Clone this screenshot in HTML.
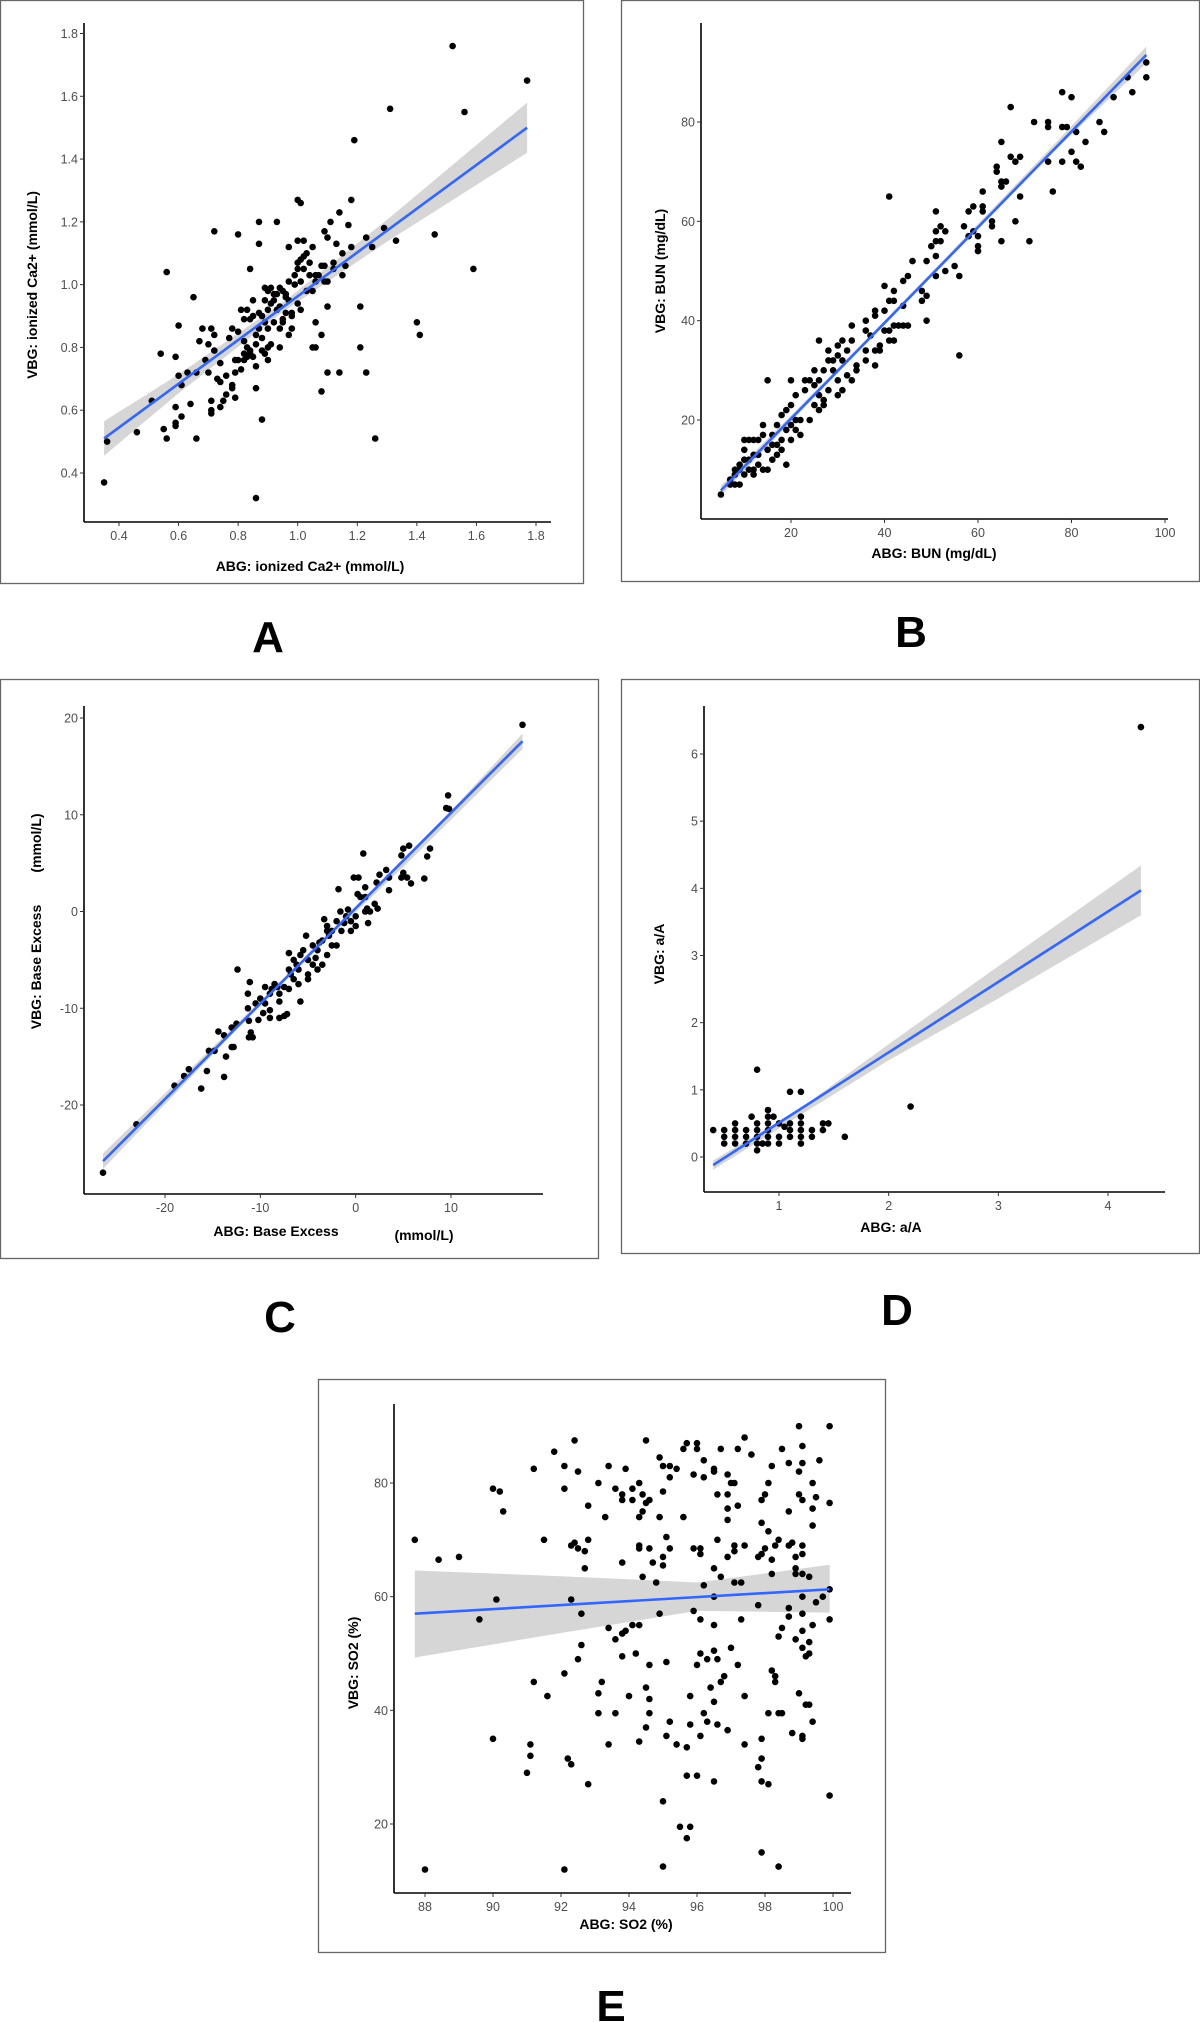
<!DOCTYPE html>
<html><head><meta charset="utf-8"><style>
html,body{margin:0;padding:0;background:#fff;}
svg{display:block;}
text{font-family:"Liberation Sans",sans-serif;}
.tick{fill:#4d4d4d;font-size:12.5px;}
.ttl{fill:#000;font-size:14px;font-weight:bold;}
.lbl{fill:#000;font-size:44px;font-weight:bold;}
</style></head><body>
<svg id="fig" width="1200" height="2022" viewBox="0 0 1200 2022" xmlns="http://www.w3.org/2000/svg">
<rect x="0" y="0" width="1200" height="2022" fill="#fff"/>
<text class="lbl" x="268" y="652" text-anchor="middle">A</text>
<text class="lbl" x="911" y="647" text-anchor="middle">B</text>
<text class="lbl" x="280" y="1332" text-anchor="middle">C</text>
<text class="lbl" x="897" y="1325" text-anchor="middle">D</text>
<text class="lbl" x="611" y="2021" text-anchor="middle">E</text>
</svg>
<script>
// ---------- Panel A: ionized Ca2+ ----------
const aX=[0.35,0.36,0.46,0.51,0.54,0.55,0.56,0.56,0.59,0.59,0.59,0.59,0.60,0.60,0.61,0.61,0.63,0.64,0.65,0.66,0.66,0.67,0.68,0.69,0.70,0.70,0.71,0.71,0.71,0.71,0.72,0.72,0.72,0.73,0.74,0.74,0.74,0.75,0.76,0.76,0.77,0.78,0.78,0.78,0.79,0.79,0.79,0.80,0.80,0.81,0.81,0.82,0.82,0.82,0.83,0.83,0.84,0.84,0.84,0.85,0.85,0.86,0.86,0.86,0.86,0.87,0.87,0.87,0.88,0.88,0.89,0.89,0.89,0.90,0.90,0.90,0.91,0.91,0.92,0.92,0.93,0.93,0.94,0.94,0.95,0.96,0.97,0.97,0.97,0.98,0.98,0.99,1.00,1.00,1.00,1.00,1.01,1.01,1.01,1.02,1.02,1.03,1.04,1.05,1.05,1.05,1.06,1.06,1.06,1.07,1.08,1.08,1.09,1.09,1.09,1.10,1.10,1.10,1.11,1.12,1.13,1.14,1.14,1.15,1.15,1.16,1.17,1.18,1.18,1.19,1.21,1.21,1.23,1.23,1.25,1.26,1.29,1.31,1.33,1.40,1.41,1.46,1.52,1.56,1.59,1.77,0.93,0.95,0.97,0.99,1.00,1.01,1.02,1.03,0.92,0.94,0.96,0.98,0.88,0.87,0.89,0.91,0.90,0.96,0.94,0.95,0.84,0.83,0.85,0.88,0.90,0.86,0.80,0.82,1.04,1.06,1.08,1.10,1.12];
const aY=[0.37,0.50,0.53,0.63,0.78,0.54,0.51,1.04,0.77,0.61,0.56,0.55,0.87,0.71,0.68,0.58,0.72,0.62,0.96,0.51,0.72,0.82,0.86,0.76,0.72,0.81,0.63,0.60,0.59,0.86,1.17,0.84,0.79,0.70,0.61,0.75,0.69,0.63,0.65,0.71,0.83,0.86,0.68,0.67,0.64,0.76,0.72,1.16,0.85,0.73,0.92,0.89,0.82,0.76,0.92,0.77,1.05,0.79,0.89,0.95,0.90,0.74,0.67,0.32,0.81,1.20,1.13,0.91,0.57,0.83,0.99,0.95,0.78,0.76,0.86,0.92,0.99,0.81,0.88,0.97,1.20,0.92,0.99,0.80,0.88,0.96,1.12,0.84,1.01,0.86,0.91,1.03,1.27,1.14,1.07,0.94,1.26,0.92,1.01,1.14,1.09,0.98,1.07,1.12,0.98,0.80,0.80,0.88,1.03,1.03,0.84,0.66,1.17,1.06,1.01,0.93,0.72,1.15,1.20,1.07,1.13,1.23,0.72,1.03,1.10,1.06,1.19,1.27,1.12,1.46,0.93,0.80,1.15,0.72,1.12,0.51,1.18,1.56,1.14,0.88,0.84,1.16,1.76,1.55,1.05,1.65,0.97,0.98,0.95,1.00,1.05,1.08,1.05,1.10,0.95,0.93,0.91,0.90,0.90,0.86,0.88,0.94,0.98,0.97,0.86,0.89,0.78,0.80,0.77,0.79,0.80,0.84,0.76,0.78,1.03,1.01,1.06,1.01,1.05];
const aTicksX=[0.4,0.6,0.8,1.0,1.2,1.4,1.6,1.8];
const aTicksY=[0.4,0.6,0.8,1.0,1.2,1.4,1.6,1.8];
const aTickLabX=["0.4","0.6","0.8","1.0","1.2","1.4","1.6","1.8"];
const aTickLabY=["0.4","0.6","0.8","1.0","1.2","1.4","1.6","1.8"];
const aFitX=[0.35,1.77];
const aFitY=[0.51,1.50];
const aBandX=[0.35,0.6,0.95,1.3,1.77];
const aBandLo=[0.455,0.654,0.913,1.137,1.42];
const aBandHi=[0.565,0.714,0.943,1.207,1.58];

// ---------- Panel B: BUN ----------
const bX=[5,7,7,8,8,8,9,9,9,10,10,10,10,11,11,11,12,12,12,12,13,13,13,14,14,14,15,15,15,16,16,16,17,17,17,18,18,18,19,19,19,20,20,20,20,21,21,21,22,22,23,23,24,24,25,25,25,26,26,26,26,27,27,27,28,28,28,29,29,30,30,30,30,31,31,31,32,32,33,33,33,34,34,36,36,36,36,37,38,38,38,38,39,39,40,40,40,41,41,41,41,42,42,42,42,43,44,44,44,45,45,46,48,48,49,49,49,50,51,51,51,51,51,52,52,53,53,55,56,56,57,58,58,59,59,60,60,60,61,61,61,63,63,64,64,65,65,65,65,66,67,67,68,68,69,69,71,72,75,75,75,76,78,78,78,79,80,80,81,81,82,83,86,87,89,92,93,96,96];
const bY=[5,7,8,7,9,10,7,10,11,9,12,14,16,12,10,16,9,10,13,16,11,13,16,10,17,19,10,14,28,12,15,17,13,15,19,14,16,21,11,18,22,16,19,23,28,18,25,20,20,17,28,26,20,28,23,30,27,36,22,28,25,24,30,23,34,26,32,32,30,25,28,33,35,36,26,32,29,34,28,39,36,31,30,32,34,38,40,37,31,34,41,42,34,35,38,42,47,36,38,44,65,39,36,44,46,39,39,43,48,39,49,52,44,46,40,45,52,55,49,53,56,58,62,56,59,50,58,51,33,49,59,57,62,58,63,54,55,57,66,62,63,59,60,70,71,56,67,68,76,68,83,73,60,72,65,73,56,80,72,79,80,66,72,79,86,79,74,85,72,78,71,76,80,78,85,89,86,89,92];
const bTicksX=[20,40,60,80,100];
const bTicksY=[20,40,60,80];
const bTickLabX=["20","40","60","80","100"];
const bTickLabY=["20","40","60","80"];
const bFitX=[5,96];
const bFitY=[5.8,93.5];
const bBandX=[5,30,50,75,96];
const bBandLo=[4.8,29.6,49.1,73.0,91.8];
const bBandHi=[6.8,30.4,49.7,74.2,95.2];

// ---------- Panel C: Base Excess ----------
const cX=[-26.5,-23,-19,-18,-17.5,-16.2,-15.6,-15.4,-14.8,-14.4,-13.8,-13.8,-13.6,-13,-13,-12.8,-12.5,-12.4,-11.3,-11.3,-11.2,-11.2,-11.1,-11,-10.8,-10.5,-10.2,-10,-9.7,-9.5,-9,-9,-9,-8.5,-8,-8,-8,-7.5,-7.5,-7.2,-7,-7,-7,-6.5,-6.5,-6,-6,-5.8,-5.5,-5.2,-5,-5,-5,-4.5,-4.5,-4,-4,-3.5,-3.5,-3.3,-3,-3,-3,-2.5,-2.5,-2,-2,-1.8,-1.6,-1.5,-1,-0.8,-0.5,-0.5,0,0,-0.2,0.3,0.2,0.5,0.8,1,1,1,1.2,1.3,1.5,2,2.2,2.3,2.5,3.2,3.5,3.5,4.8,4.8,5,5,5.4,5.6,5.8,7.2,7.5,7.8,9.5,9.8,9.7,17.5,-9.5,-8.8,-8.2,-6.8,-6.2,-5.8,-4.2,-3.8,-2.8,-1.2];
const cY=[-27,-22,-18,-17,-16.3,-18.3,-16.5,-14.4,-14.4,-12.4,-12.8,-17.1,-15,-14,-12,-14,-11.6,-6,-8.5,-10,-11.3,-13,-7.3,-12.5,-13,-9.5,-11.2,-9,-10.5,-7.8,-8.5,-11,-10.2,-7.5,-11,-8.5,-9.3,-7.8,-10.8,-10.6,-6,-8,-4.3,-7,-5,-6,-7.5,-9.3,-4,-2.5,-7,-5,-6.5,-5.5,-3.5,-4,-6,-3,-5.5,-0.8,-2,-4.5,-1.5,-2,-3.5,-1,-3.5,2.3,0,-2,-0.5,0.2,-1,-2,-0.5,-1.5,3.5,3.5,1.8,1.5,6,2.5,0,1.5,0.3,-1.2,0,0.8,3,0.3,3.8,4.3,2.2,3.5,3.5,5.8,6.5,4,3.5,6.8,2.9,3.4,5.7,6.5,10.7,10.6,12,19.3,-9.5,-8,-7.8,-6.5,-5.5,-4.5,-4.8,-3.2,-2.5,-1.2];
const cTicksX=[-20,-10,0,10];
const cTicksY=[-20,-10,0,10,20];
const cTickLabX=["-20","-10","0","10"];
const cTickLabY=["-20","-10","0","10","20"];
const cFitX=[-26.5,17.5];
const cFitY=[-25.8,17.6];
const cBandX=[-26.5,-10,-4,5,17.5];
const cBandLo=[-26.6,-9.65,-3.8,4.6,16.8];
const cBandHi=[-25.0,-9.25,-3.4,5.1,18.4];

// ---------- Panel D: a/A ----------
const dX=[0.4,0.5,0.5,0.5,0.6,0.6,0.6,0.6,0.7,0.7,0.7,0.75,0.8,0.8,0.8,0.8,0.8,0.8,0.85,0.9,0.9,0.9,0.9,0.9,0.9,0.95,1.0,1.0,1.0,1.05,1.1,1.1,1.1,1.1,1.2,1.2,1.2,1.2,1.2,1.2,1.3,1.3,1.4,1.4,1.45,1.6,2.2,4.3];
const dY=[0.4,0.2,0.3,0.4,0.2,0.3,0.4,0.5,0.2,0.3,0.4,0.6,0.1,0.2,0.3,0.4,0.5,1.3,0.2,0.2,0.3,0.4,0.5,0.6,0.7,0.6,0.2,0.3,0.5,0.45,0.3,0.4,0.5,0.97,0.2,0.3,0.4,0.5,0.6,0.97,0.3,0.4,0.4,0.5,0.5,0.3,0.75,6.4];
const dTicksX=[1,2,3,4];
const dTicksY=[0,1,2,3,4,5,6];
const dTickLabX=["1","2","3","4"];
const dTickLabY=["0","1","2","3","4","5","6"];
const dFitX=[0.4,4.3];
const dFitY=[-0.12,3.97];
const dBandX=[0.4,1.2,2.0,3.0,4.3];
const dBandLo=[-0.19,0.63,1.44,2.36,3.6];
const dBandHi=[-0.05,0.73,1.68,2.84,4.34];

// ---------- Panel E: SO2 ----------
const eX=[87.7,88,88.4,89,89.6,90,90,90.1,90.2,90.3,91,91.1,91.1,91.2,91.2,91.5,91.6,91.8,92.1,92.1,92.1,92.1,92.2,92.3,92.3,92.3,92.4,92.4,92.5,92.5,92.5,92.6,92.6,92.7,92.7,92.8,92.8,92.8,93.1,93.1,93.1,93.2,93.3,93.4,93.4,93.4,93.6,93.6,93.6,93.8,93.8,93.8,93.8,93.8,93.9,93.9,94,94.1,94.1,94.1,94.2,94.3,94.3,94.3,94.3,94.3,94.3,94.4,94.4,94.4,94.5,94.5,94.5,94.5,94.6,94.6,94.6,94.6,94.6,94.7,94.8,94.9,94.9,94.9,95,95,95,95,95,95,95.1,95.1,95.1,95.2,95.2,95.2,95.2,95.4,95.4,95.5,95.6,95.6,95.7,95.7,95.7,95.7,95.8,95.8,95.8,95.9,95.9,95.9,96,96,96,96,96.1,96.1,96.1,96.1,96.1,96.2,96.2,96.2,96.2,96.3,96.3,96.4,96.5,96.5,96.5,96.5,96.5,96.5,96.5,96.5,96.6,96.6,96.6,96.6,96.7,96.7,96.7,96.8,96.9,96.9,96.9,96.9,96.9,96.9,97,97,97.1,97.1,97.1,97.1,97.2,97.2,97.2,97.3,97.3,97.4,97.4,97.4,97.4,97.6,97.8,97.8,97.8,97.9,97.9,97.9,97.9,97.9,97.9,97.9,98,98,98.1,98.1,98.1,98.1,98.2,98.2,98.2,98.2,98.3,98.3,98.3,98.4,98.4,98.4,98.4,98.5,98.5,98.5,98.7,98.7,98.7,98.7,98.7,98.8,98.8,98.9,98.9,98.9,98.9,99,99,99,99,99.1,99.1,99.1,99.1,99.1,99.1,99.1,99.1,99.1,99.1,99.1,99.1,99.2,99.2,99.3,99.3,99.3,99.3,99.4,99.4,99.4,99.4,99.4,99.5,99.5,99.6,99.7,99.9,99.9,99.9,99.9,99.9];
const eY=[70,12,66.5,67,56,79,35,59.5,78.5,75,29,34,32,82.5,45,70,42.5,85.5,83,79,46.5,12,31.5,30.5,69,59.5,87.5,69.5,82,68.5,49,57,51.5,68,65,76,70,27,80,43,39.5,45,74,83,54.5,34,79,52.5,39.5,78,77,66,53.5,49.5,82.5,54,42.5,79,77,55,50,80,74,69,68.5,55,34.5,78,75,63.5,87.5,76.5,44,37,77,68.5,48,42,39.5,66,62.5,84.5,74,57,83,78.5,67,65.5,24,12.5,70.5,48.5,35.5,83,81,68.5,38,82.5,34,19.5,86,74,87,33.5,28.5,17.5,42.5,37.5,19.5,81.5,68.5,57.5,87,86,48,28.5,68.5,67.5,56,50,35.5,84,81,62,39.5,49,38,44,82.5,82,65,60,55,50.5,41.5,27.5,78,70,49,37.5,86,63.5,45,46,81.5,78,75.5,73.5,67,36.5,80,51,80,69,68,62.5,86,76,48,62.5,56,88,69,42.5,34,85,67,58.5,30,73,77,67.5,35,31.5,27.5,15,78,68.5,80,71.5,39.5,27,83,66.5,64,47,69,46,45,70,53,39.5,12.5,86,54.5,39.5,83.5,75,69,58,56.5,69.5,36,67,65,64,52.5,90,82,78,43,86.5,83.5,77,69,67.5,64,60,57,54,51,35.5,35,49.5,41,63.5,52,50,41,80,75.5,72.5,55,38,77.5,59,84,60,90,76.5,61.3,56,25];
const eTicksX=[88,90,92,94,96,98,100];
const eTicksY=[20,40,60,80];
const eTickLabX=["88","90","92","94","96","98","100"];
const eTickLabY=["20","40","60","80"];
const eFitX=[87.7,99.9];
const eFitY=[57,61.3];
const eBandX=[87.7,92,96,99.9];
const eBandLo=[49.3,53.6,57.5,57.2];
const eBandHi=[64.6,63.6,62.5,65.6];

const NS="http://www.w3.org/2000/svg";
const svg=document.getElementById('fig');
function mk(tag,attrs,parent){const e=document.createElementNS(NS,tag);for(const k in attrs)e.setAttribute(k,attrs[k]);(parent||svg).appendChild(e);return e;}
function lin(d0,d1,p0,p1){return v=>p0+(v-d0)*(p1-p0)/(d1-d0);}

function panel(id,L,xs,ys,tx,ty,tlx,tly,fx,fy,bx,blo,bhi){
  const g=mk('g',{});
  
  
  const fr=mk('rect',{x:L.fx0+0.5,y:L.fy0+0.5,width:L.fx1-L.fx0-1,height:L.fy1-L.fy0-1,fill:'#fff',stroke:'#666','stroke-width':1.3},g);
  
  
  const X=lin(L.xt[0],L.xt[1],L.xp[0],L.xp[1]);
  const Y=lin(L.yt[0],L.yt[1],L.yp[0],L.yp[1]);
  let d='';
  for(let i=0;i<bx.length;i++)d+=(i?'L':'M')+X(bx[i]).toFixed(1)+','+Y(bhi[i]).toFixed(1);
  for(let i=bx.length-1;i>=0;i--)d+='L'+X(bx[i]).toFixed(1)+','+Y(blo[i]).toFixed(1);
  d+='Z';
  const band=mk('path',{d:d,fill:'#999','fill-opacity':0.4},g);
  
  
  const pg=mk('g',{},g);
  
  
  for(let i=0;i<xs.length;i++){
    const c=mk('circle',{cx:X(xs[i]).toFixed(1),cy:Y(ys[i]).toFixed(1),r:3.3,fill:'#000'},pg);
    
    
  }
  const ln=mk('line',{x1:X(fx[0]),y1:Y(fy[0]),x2:X(fx[1]),y2:Y(fy[1]),stroke:'#3366FF','stroke-width':2.6},g);
  
  
  const ya=mk('line',{x1:L.ax,y1:L.atop,x2:L.ax,y2:L.ay,stroke:'#000','stroke-width':1.6},g);
  
  
  const xa=mk('line',{x1:L.ax,y1:L.ay,x2:L.aright,y2:L.ay,stroke:'#000','stroke-width':1.6},g);
  
  
  for(let i=0;i<tx.length;i++){
    const px=X(tx[i]);
    const tk=mk('line',{x1:px,y1:L.ay,x2:px,y2:L.ay+4,stroke:'#333','stroke-width':1},g);
    
    
    const t=mk('text',{x:px,y:L.ay+18,'text-anchor':'middle',class:'tick'},g);
    t.textContent=tlx[i];
    
    
  }
  for(let i=0;i<ty.length;i++){
    const py=Y(ty[i]);
    const tk=mk('line',{x1:L.ax-4,y1:py,x2:L.ax,y2:py,stroke:'#333','stroke-width':1},g);
    
    
    const t=mk('text',{x:L.ax-6,y:py+4.5,'text-anchor':'end',class:'tick'},g);
    t.textContent=tly[i];
    
    
  }
  L.titles.forEach(tt=>{
    const t=mk('text',{x:tt.x,y:tt.y,'text-anchor':'middle',class:'ttl'},g);
    if(tt.rot)t.setAttribute('transform','rotate(-90 '+tt.x+' '+tt.y+')');
    t.textContent=tt.s;
    
    
  });
}

panel('a',{fx0:0,fy0:0,fx1:584,fy1:584,xt:[0.4,1.8],xp:[119,536],yt:[1.8,0.4],yp:[33.5,473],ax:84,atop:23,ay:522,aright:551,
  titles:[{x:310,y:571,s:'ABG: ionized Ca2+ (mmol/L)',n:'x-axis-title'},{x:37,y:285,s:'VBG: ionized Ca2+ (mmol/L)',rot:1,n:'y-axis-title'}]},
  aX,aY,aTicksX,aTicksY,aTickLabX,aTickLabY,aFitX,aFitY,aBandX,aBandLo,aBandHi);
panel('b',{fx0:621,fy0:0,fx1:1200,fy1:582,xt:[20,100],xp:[791,1165],yt:[80,20],yp:[122,420],ax:701,atop:23,ay:519,aright:1168,
  titles:[{x:934,y:558,s:'ABG: BUN (mg/dL)',n:'x-axis-title'},{x:665,y:271,s:'VBG: BUN (mg/dL)',rot:1,n:'y-axis-title'}]},
  bX,bY,bTicksX,bTicksY,bTickLabX,bTickLabY,bFitX,bFitY,bBandX,bBandLo,bBandHi);
panel('c',{fx0:0,fy0:679,fx1:599,fy1:1259,xt:[-20,10],xp:[165,451],yt:[20,-20],yp:[718,1105],ax:84,atop:706,ay:1194,aright:543,
  titles:[{x:276,y:1236,s:'ABG: Base Excess',n:'x-axis-title'},{x:424,y:1240,s:'(mmol/L)',n:'x-axis-unit'},{x:41,y:967,s:'VBG: Base Excess',rot:1,n:'y-axis-title'},{x:41,y:843,s:'(mmol/L)',rot:1,n:'y-axis-unit'}]},
  cX,cY,cTicksX,cTicksY,cTickLabX,cTickLabY,cFitX,cFitY,cBandX,cBandLo,cBandHi);
panel('d',{fx0:621,fy0:679,fx1:1200,fy1:1254,xt:[1,4],xp:[779,1108],yt:[6,0],yp:[754,1157],ax:704,atop:706,ay:1192,aright:1165,
  titles:[{x:891,y:1232,s:'ABG: a/A',n:'x-axis-title'},{x:664,y:954,s:'VBG: a/A',rot:1,n:'y-axis-title'}]},
  dX,dY,dTicksX,dTicksY,dTickLabX,dTickLabY,dFitX,dFitY,dBandX,dBandLo,dBandHi);
panel('e',{fx0:318,fy0:1379,fx1:886,fy1:1953,xt:[88,100],xp:[425,833],yt:[80,20],yp:[1483,1824],ax:394,atop:1404,ay:1893,aright:851,
  titles:[{x:626,y:1929,s:'ABG: SO2 (%)',n:'x-axis-title'},{x:358,y:1663,s:'VBG: SO2 (%)',rot:1,n:'y-axis-title'}]},
  eX,eY,eTicksX,eTicksY,eTickLabX,eTickLabY,eFitX,eFitY,eBandX,eBandLo,eBandHi);
</script>
</body></html>
